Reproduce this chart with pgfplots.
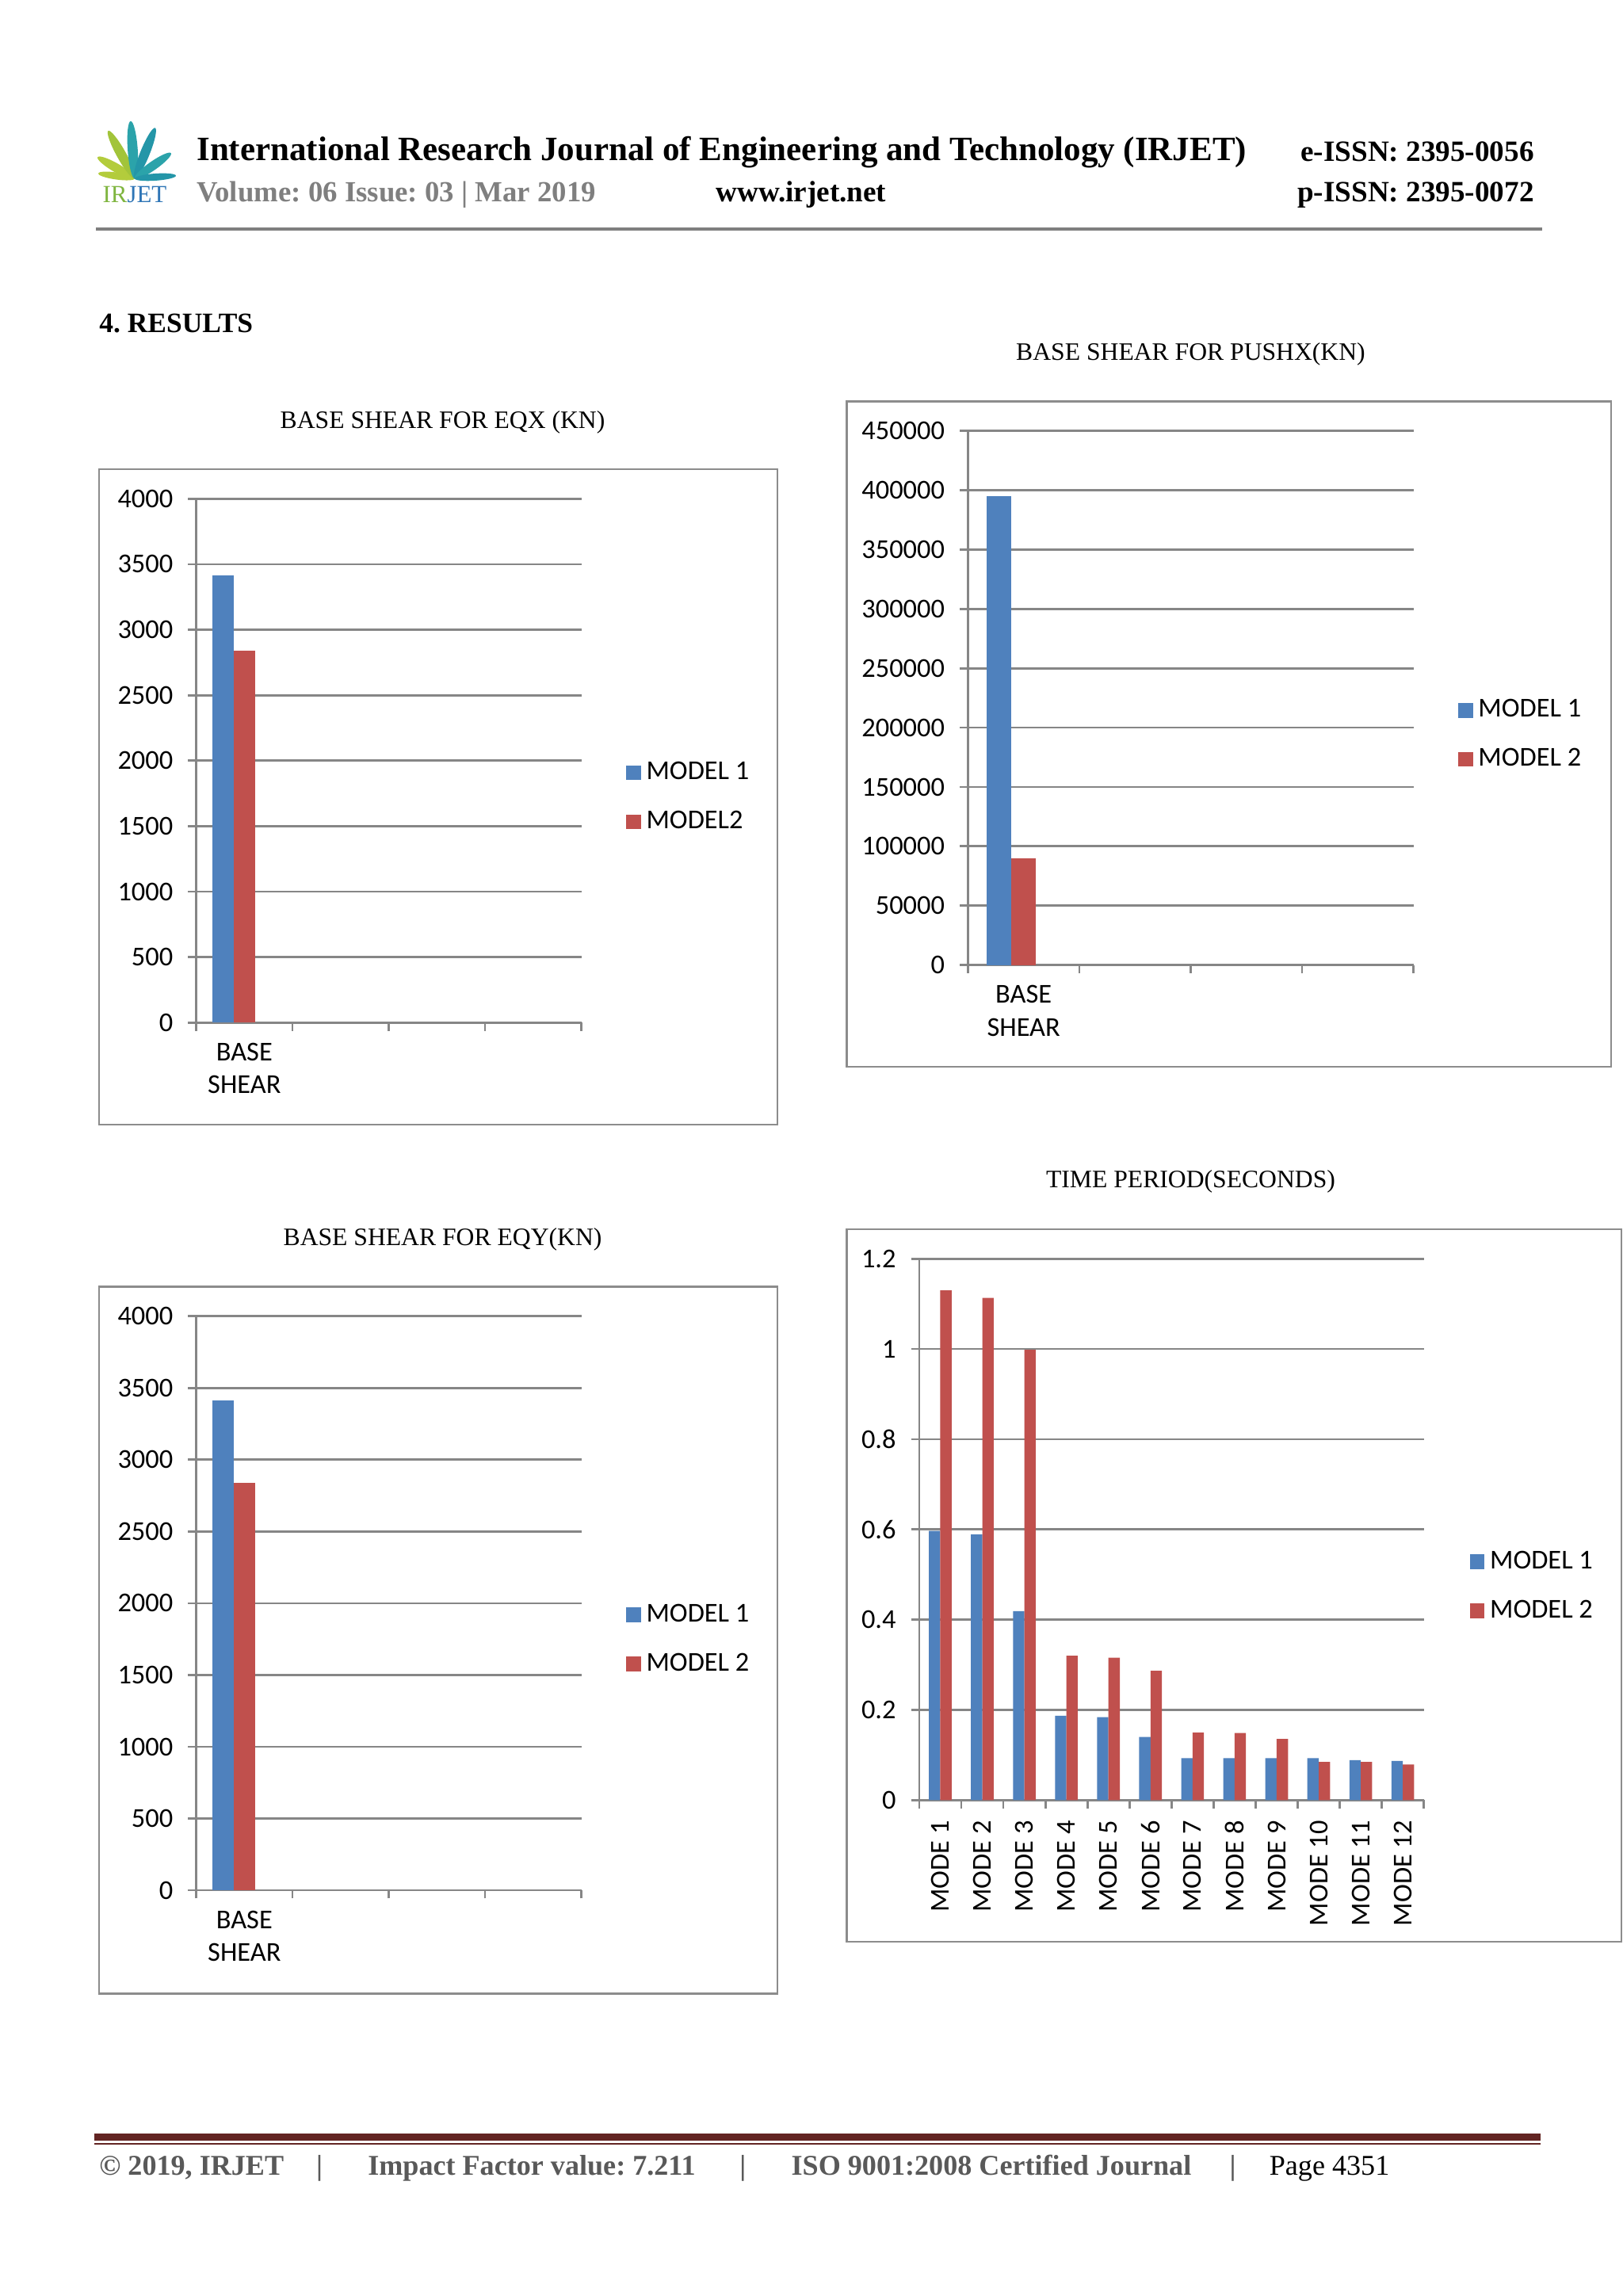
\documentclass[border=0pt]{standalone}
\usepackage{fontspec}
\setmainfont{Liberation Serif}
\newfontfamily\calibri{Carlito}
\usepackage{pgfplots}
\pgfplotsset{compat=1.18}
\frenchspacing

\definecolor{m1}{HTML}{4F81BD}
\definecolor{m2}{HTML}{C0504D}
\definecolor{axgray}{HTML}{868686}
\definecolor{boxgray}{HTML}{8C8C8C}
\definecolor{maroon}{HTML}{632523}
\definecolor{hgray}{HTML}{7F7F7F}
\definecolor{fgray}{HTML}{595959}
\definecolor{lg1}{HTML}{B3CC3C}
\definecolor{lg2}{HTML}{A2C43A}
\definecolor{tl1}{HTML}{2BA3AA}
\definecolor{tl2}{HTML}{2496A8}
\definecolor{irg}{HTML}{7FB53F}
\definecolor{bl1}{HTML}{2E75B6}

\def\pu{0.5412pt}

\pgfplotsset{
  sqlegend/.style={legend image code/.code={\fill[##1] (0pt,-2.7pt) rectangle (5.4pt,2.7pt);}},
  excel/.style={
    scale only axis, anchor=south west,
    axis lines*=left,
    axis line style={draw=axgray, line width=0.8pt},
    ymajorgrids, grid style={draw=axgray, line width=0.8pt},
    tick align=outside, major tick length=3pt,
    tick style={draw=axgray, line width=0.8pt},
    ymin=0, enlargelimits=false, clip=false,
    tick label style={font=\calibri\fontsize{10}{12}\selectfont, text=black},
    /pgf/number format/fixed,
    /pgf/number format/assume math mode=true,
    /pgf/number format/1000 sep={},
    scaled y ticks=false,
    yticklabel style={xshift=-2pt},
    legend style={draw=none, fill=none, anchor=west, inner sep=0pt,
      font=\calibri\fontsize{10}{12}\selectfont, row sep=6pt},
    legend cell align=left,
  },
  base/.style={
    xmin=0, xmax=4, xtick={0,1,2,3,4}, xticklabels={},
    extra x ticks={0.5}, extra x tick labels={BASE\\SHEAR},
    extra x tick style={major tick length=0pt,
      xticklabel style={align=center, yshift=-4pt}},
  },
}

\begin{document}
\begin{tikzpicture}
\fill[white] (0,0) rectangle (1100*\pu,-1556*\pu);
\path[use as bounding box] (0,0) rectangle (1100*\pu,-1556*\pu);

% header logo
\begin{scope}[shift={(91.3*\pu,-121*\pu)}]
  \foreach \ang/\len/\wid/\col in {172/25/2.4/lg1, 150/29/3.0/lg1, 119/37/3.2/lg2,
      94/39/3.4/tl1, 68/37/3.2/tl2, 35/30/3.0/tl1, 4/28/2.4/tl2}
    \fill[\col, rotate=\ang] (\len*0.5*\pu,0) ellipse [x radius=\len*0.5*\pu, y radius=\wid*\pu];
\end{scope}
\node[font=\fontsize{9}{10}\selectfont, inner sep=0pt] at (91.3*\pu,-132*\pu)
  {\textcolor{irg}{IR}\textcolor{bl1}{JET}};

% header text
\node[anchor=west, inner sep=0pt, font=\bfseries\fontsize{12.5}{14}\selectfont] at (133*\pu,-103*\pu)
  {International Research Journal of Engineering and Technology (IRJET)};
\node[anchor=east, inner sep=0pt, font=\bfseries\fontsize{10.8}{13}\selectfont] at (1040*\pu,-103*\pu)
  {e-ISSN: 2395-0056};
\node[anchor=west, inner sep=0pt, text=hgray, font=\bfseries\fontsize{10.7}{13}\selectfont] at (133*\pu,-132*\pu)
  {Volume: 06 Issue: 03 | Mar 2019};
\node[anchor=west, inner sep=0pt, font=\bfseries\fontsize{10.8}{13}\selectfont] at (485*\pu,-132*\pu)
  {www.irjet.net};
\node[anchor=east, inner sep=0pt, font=\bfseries\fontsize{10.8}{13}\selectfont] at (1040*\pu,-132*\pu)
  {p-ISSN: 2395-0072};
\draw[hgray, line width=1.2pt] (65*\pu,-155*\pu) -- (1045*\pu,-155*\pu);

\node[anchor=west, inner sep=0pt, font=\bfseries\fontsize{10.3}{12}\selectfont] at (67*\pu,-219*\pu)
  {4. RESULTS};

% chart titles
\node[font=\fontsize{9.2}{11}\selectfont] at (300*\pu,-286*\pu) {BASE SHEAR FOR EQX (KN)};
\node[font=\fontsize{9.2}{11}\selectfont] at (807*\pu,-240*\pu) {BASE SHEAR FOR PUSHX(KN)};
\node[font=\fontsize{9.2}{11}\selectfont] at (300*\pu,-840*\pu) {BASE SHEAR FOR EQY(KN)};
\node[font=\fontsize{9.2}{11}\selectfont] at (807*\pu,-801*\pu) {TIME PERIOD(SECONDS)};

% chart frames
\draw[boxgray, line width=0.7pt] (67*\pu,-318*\pu) rectangle (527*\pu,-762*\pu);
\draw[boxgray, line width=0.7pt] (574*\pu,-272*\pu) rectangle (1092*\pu,-723*\pu);
\draw[boxgray, line width=0.7pt] (67*\pu,-872*\pu) rectangle (527*\pu,-1351*\pu);
\draw[boxgray, line width=0.7pt] (574*\pu,-833*\pu) rectangle (1099*\pu,-1316*\pu);

% EQX
\begin{axis}[excel, base, at={(71.98pt,-375.05pt)}, width=141.25pt, height=192.13pt,
  ymax=4000, ytick={0,500,1000,1500,2000,2500,3000,3500,4000},
  legend style={at={(1.115,0.43)}}]
\addplot[ybar, bar width=0.22, bar shift=-0.22, fill=m1, draw=none, sqlegend] coordinates {(0.5,3417)};
\addlegendentry{MODEL 1}
\addplot[ybar, bar width=0.22, bar shift=0, fill=m2, draw=none, sqlegend] coordinates {(0.5,2840)};
\addlegendentry{MODEL2}
\end{axis}

% PUSHX
\begin{axis}[excel, base, at={(355.03pt,-353.94pt)}, width=163.44pt, height=195.91pt,
  ymax=450000, ytick={0,50000,100000,150000,200000,250000,300000,350000,400000,450000},
  legend style={at={(1.099,0.431)}}]
\addplot[ybar, bar width=0.22, bar shift=-0.22, fill=m1, draw=none, sqlegend] coordinates {(0.5,394900)};
\addlegendentry{MODEL 1}
\addplot[ybar, bar width=0.22, bar shift=0, fill=m2, draw=none, sqlegend] coordinates {(0.5,89850)};
\addlegendentry{MODEL 2}
\end{axis}

% EQY
\begin{axis}[excel, base, at={(71.98pt,-693.28pt)}, width=141.25pt, height=210.53pt,
  ymax=4000, ytick={0,500,1000,1500,2000,2500,3000,3500,4000},
  legend style={at={(1.115,0.437)}}]
\addplot[ybar, bar width=0.22, bar shift=-0.22, fill=m1, draw=none, sqlegend] coordinates {(0.5,3415)};
\addlegendentry{MODEL 1}
\addplot[ybar, bar width=0.22, bar shift=0, fill=m2, draw=none, sqlegend] coordinates {(0.5,2838)};
\addlegendentry{MODEL 2}
\end{axis}

% TIME PERIOD
\begin{axis}[excel, at={(337.17pt,-660.26pt)}, width=185.09pt, height=198.62pt,
  ymax=1.2, ytick={0,0.2,0.4,0.6,0.8,1,1.2},
  xmin=0.5, xmax=12.5,
  xtick={0.5,1.5,2.5,3.5,4.5,5.5,6.5,7.5,8.5,9.5,10.5,11.5,12.5}, xticklabels={},
  extra x ticks={1,2,3,4,5,6,7,8,9,10,11,12},
  extra x tick labels={MODE 1,MODE 2,MODE 3,MODE 4,MODE 5,MODE 6,MODE 7,MODE 8,MODE 9,MODE 10,MODE 11,MODE 12},
  extra x tick style={major tick length=0pt,
    xticklabel style={rotate=90, anchor=east, xshift=-4pt}},
  legend style={at={(1.09,0.395)}}]
\addplot[ybar, bar width=0.27, bar shift=-0.135, fill=m1, draw=none, sqlegend] coordinates {
  (1,0.597) (2,0.589) (3,0.419) (4,0.187) (5,0.184) (6,0.140)
  (7,0.093) (8,0.093) (9,0.093) (10,0.093) (11,0.089) (12,0.087)};
\addlegendentry{MODEL 1}
\addplot[ybar, bar width=0.27, bar shift=0.135, fill=m2, draw=none, sqlegend] coordinates {
  (1,1.130) (2,1.113) (3,0.998) (4,0.320) (5,0.316) (6,0.287)
  (7,0.150) (8,0.149) (9,0.136) (10,0.085) (11,0.085) (12,0.079)};
\addlegendentry{MODEL 2}
\end{axis}

% footer
\fill[maroon] (64*\pu,-1446*\pu) rectangle (1044*\pu,-1450.5*\pu);
\draw[maroon, line width=0.5pt] (64*\pu,-1453*\pu) -- (1044*\pu,-1453*\pu);
\begin{scope}[every node/.style={anchor=base west, inner sep=0pt, text=fgray, font=\bfseries\fontsize{10.5}{12}\selectfont}]
  \node at (67*\pu,-1474*\pu) {\textcopyright\ 2019, IRJET};
  \node at (214*\pu,-1474*\pu) {|};
  \node at (249*\pu,-1474*\pu) {Impact Factor value: 7.211};
  \node at (501*\pu,-1474*\pu) {|};
  \node at (536*\pu,-1474*\pu) {ISO 9001:2008 Certified Journal};
  \node at (833*\pu,-1474*\pu) {|};
  \node[text=black, font=\fontsize{10.5}{12}\selectfont] at (860*\pu,-1474*\pu) {Page 4351};
\end{scope}
\end{tikzpicture}
\end{document}
